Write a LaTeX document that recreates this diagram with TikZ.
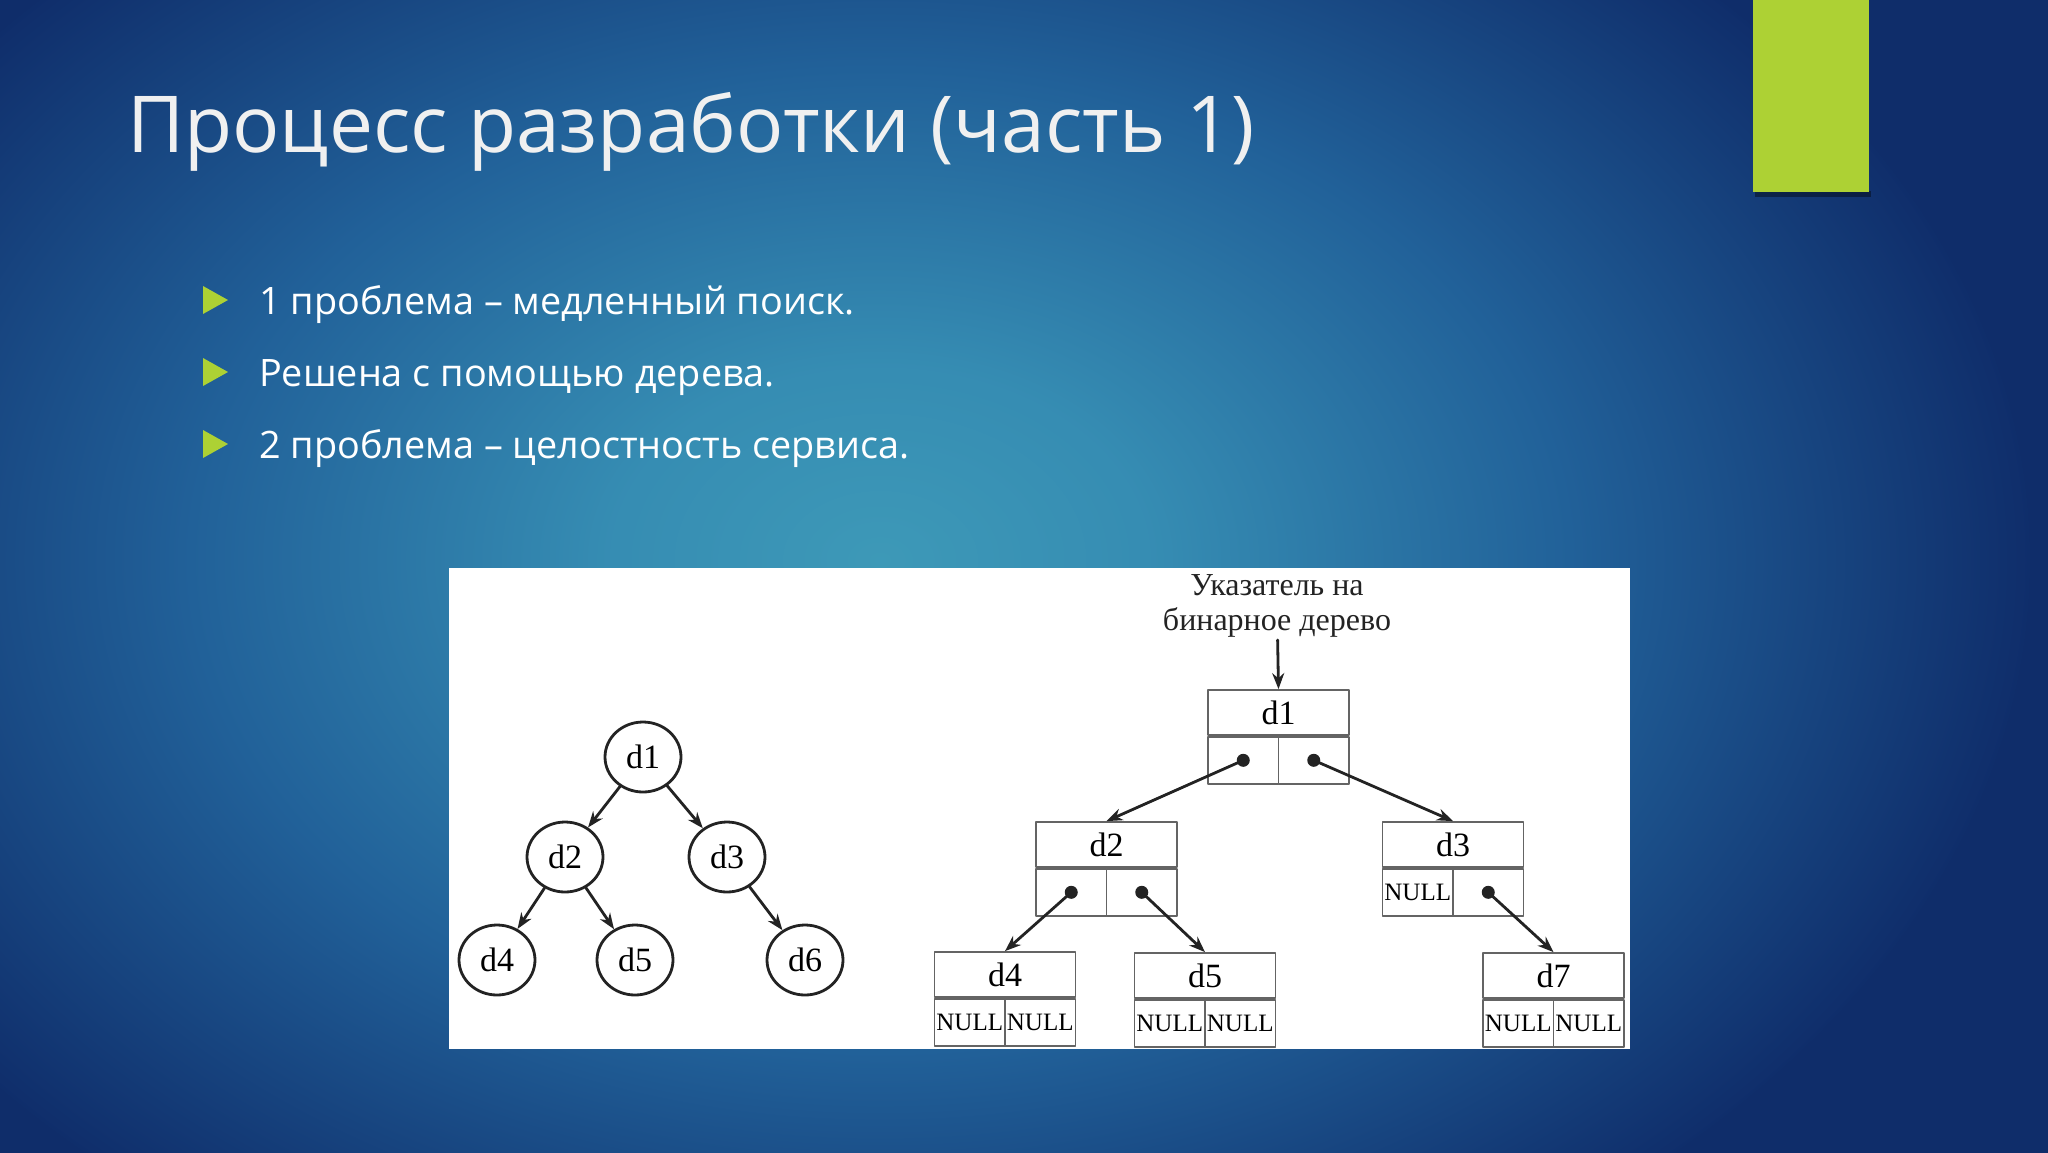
\documentclass[tikz,border=0pt]{standalone}
\usepackage{fontspec}
\setmainfont{Open Sans}
\newfontfamily\treefont{Liberation Serif}
\usepackage{xcolor}
\usetikzlibrary{arrows.meta,positioning,shapes.geometric}
\definecolor{slidenavy}{RGB}{15,45,106}
\definecolor{barlime}{RGB}{173,209,52}
\definecolor{boxgrey}{RGB}{100,100,100}
\definecolor{inkdark}{RGB}{35,35,35}
\pgfdeclareradialshading{slideglow}{\pgfpoint{0bp}{0bp}}{rgb(0bp)=(0.24,0.60,0.72);rgb(6bp)=(0.21,0.55,0.70);rgb(15bp)=(0.13,0.38,0.60);rgb(25bp)=(0.06,0.18,0.42);rgb(50bp)=(0.06,0.18,0.42)}

\begin{document}
\begin{tikzpicture}[x=1pt,y=-1pt,line cap=round,line join=round,
  item/.style={anchor=base west,text=white,inner sep=0,font=\fontsize{37.8}{46}\selectfont},
  circ/.style={ellipse,draw=inkdark,line width=2.8pt,minimum width=76pt,minimum height=70pt,inner sep=0,
    font=\treefont\fontsize{34}{40}\selectfont},
  head/.style={rectangle,draw=boxgrey,line width=1.8pt,minimum width=141pt,minimum height=45pt,inner sep=0,
    font=\treefont\fontsize{34}{40}\selectfont},
  half/.style={rectangle,draw=boxgrey,line width=1.8pt,minimum width=70.5pt,minimum height=47pt,inner sep=0,
    font=\treefont\fontsize{25}{28}\selectfont},
  link/.style={draw=inkdark,line width=2.8pt,-{Stealth[length=16pt,width=12pt]}},
]
\useasboundingbox(0,0)rectangle(2048,1152);
% slide background
\fill[slidenavy](-6,-6)rectangle(2054,1158);
\shade[shading=slideglow](880,560)ellipse[x radius=1150,y radius=820];
\fill[black,opacity=.4](1755,191)rectangle(1871,197);
\fill[barlime](1753,0)rectangle(1869,192);
\node[anchor=base west,text=white!94!black,inner sep=0,font=\fontsize{78.5}{90}\selectfont](title)at(127,152)
  {Процесс разработки (часть 1)};
\foreach \t [count=\i] in {1 проблема – медленный поиск.,Решена с помощью дерева.,2 проблема – целостность сервиса.}{
  \node[item](item\i)at(259,{242+72*\i}){\t};
  \fill[barlime](203,{214+72*\i})--(228,{228+72*\i})--(203,{242+72*\i})--cycle;
}
% picture panel
\fill[white](449,568)rectangle(1630,1049);
% left tree
\node[circ](c1)at(643,757){d1};
\node[circ](c2)at(565,857){d2};
\node[circ](c3)at(727,857){d3};
\node[circ](c4)at(497,960){d4};
\node[circ](c5)at(635,960){d5};
\node[circ](c6)at(805,960){d6};
\draw[link](c1)--(c2);
\draw[link](c1)--(c3);
\draw[link](c2)--(c4);
\draw[link](c2)--(c5);
\draw[link](c3)--(c6);
% right tree
\node[align=center,text=inkdark,inner sep=2pt,anchor=south,
  font=\treefont\fontsize{32}{35}\selectfont](ptr)at(1277,640){Указатель на\\бинарное дерево};
\node[head](b1)at(1278.5,712.5){d1};
\node[head](b2)at(1106.5,844.5){d2};
\node[head](b3)at(1453,844.5){d3};
\node[head](b4)at(1005,974.5){d4};
\node[head](b5)at(1205,975.5){d5};
\node[head](b7)at(1553.5,975.5){d7};
\foreach \b/\l/\r in {b1//,b2//,b3/NULL/,b4/NULL/NULL,b5/NULL/NULL,b7/NULL/NULL}{
  \node[half,below right=0pt of \b.south west](\b l){\l};
  \node[half,below left=0pt of \b.south east](\b r){\r};
}
\foreach \c in {b1l,b1r,b2l,b2r,b3r}
  \fill[inkdark](\c.center)circle(6.5);
\draw[link](ptr)--(b1.north);
\draw[link](b1l.center)--(b2.north);
\draw[link](b1r.center)--(b3.north);
\draw[link](b2l.center)--(b4.north);
\draw[link](b2r.center)--(b5.north);
\draw[link](b3r.center)--(b7.north);
\end{tikzpicture}
\end{document}
